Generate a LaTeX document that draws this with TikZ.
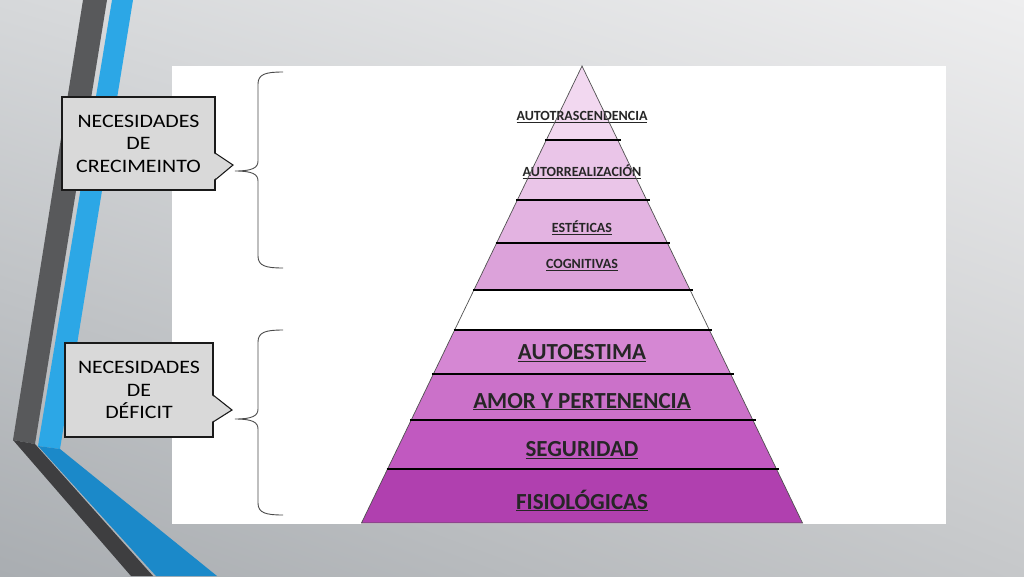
\documentclass[tikz,border=0pt]{standalone}
\usepackage{fontspec}
\setmainfont{Carlito}
\newfontfamily\CalloutFace[FakeStretch=1.15]{Carlito}
\usepackage{xcolor}
\usepackage{tikz}
\usetikzlibrary{calc,shadings}
\definecolor{SlideTopLeft}{HTML}{D6D8DA}
\definecolor{SlideTopRight}{HTML}{EEEEEF}
\definecolor{SlideBottomLeft}{HTML}{A9ADB1}
\definecolor{SlideBottomRight}{HTML}{C6C8CA}
\definecolor{StripeDark}{HTML}{58595B}
\definecolor{StripeDarkLow}{HTML}{3E3E40}
\definecolor{StripeBlue}{HTML}{2CA7E6}
\definecolor{StripeBlueLow}{HTML}{1B89C9}
\definecolor{CalloutFill}{HTML}{D9D9D9}
\definecolor{CalloutEdge}{HTML}{1A1A1A}
\definecolor{BraceInk}{HTML}{4A4A4A}
\definecolor{PyramidEdge}{HTML}{505050}
\definecolor{LayerInk}{HTML}{262626}
\definecolor{LayerA}{HTML}{F2D8F0}
\definecolor{LayerB}{HTML}{EAC5E8}
\definecolor{LayerC}{HTML}{E3B3E1}
\definecolor{LayerD}{HTML}{DCA2DA}
\definecolor{LayerE}{HTML}{D587D3}
\definecolor{LayerF}{HTML}{CB71C9}
\definecolor{LayerG}{HTML}{C159C0}
\definecolor{LayerH}{HTML}{B040AF}
\newcommand{\CalloutText}{\CalloutFace\fontsize{19}{22.5}\selectfont}
\newcommand{\SmallLayer}{\fontsize{14}{16}\selectfont\bfseries}
\newcommand{\BigLayer}{\fontsize{23}{26}\selectfont\bfseries}
\tikzset{
  callout box/.style={draw=CalloutEdge,fill=CalloutFill,line width=1.1pt,
    align=center,inner sep=0pt,text=black,font=\CalloutText},
  callout edge/.style={draw=CalloutEdge,line width=1.1pt,line join=miter},
  brace line/.style={draw=BraceInk,line width=0.9pt},
  layer rule/.style={draw=black,line width=2.4pt},
  pyramid edge/.style={draw=PyramidEdge,line width=0.7pt}
}

\begin{document}
\begin{tikzpicture}[x=1pt,y=-1pt]
  % pixel grid of the 1024 x 576 slide, y runs downwards
  \path[use as bounding box] (0,0) rectangle (1024,576);
  \shade[upper left=SlideTopLeft,upper right=SlideTopRight,
    lower left=SlideBottomLeft,lower right=SlideBottomRight] (0,0) rectangle (1024,576);

  \fill[StripeDark] (83,0) -- (107,0) -- (35,444) -- (13,440) -- cycle;
  \fill[StripeDarkLow] (13,440) -- (35,444) -- (153,576) -- (131,576) -- cycle;
  \fill[StripeBlue] (112,0) -- (133,0) -- (60,449) -- (38,446) -- cycle;
  \fill[StripeBlueLow] (38,446) -- (60,449) -- (217,576) -- (156,576) -- cycle;

  \fill[white] (172,66) rectangle (946,524);

  \def\apexx{582}
  \def\apexy{66}
  \def\slope{0.4825}

  \newcommand{\pyrlayer}[7]{%
    \pgfmathsetmacro{\halftop}{\slope*(#2-\apexy)}%
    \pgfmathsetmacro{\halfbot}{\slope*(#3-\apexy)}%
    \fill[#4] ({\apexx-\halftop},#2) -- ({\apexx+\halftop},#2)
      -- ({\apexx+\halfbot},#3) -- ({\apexx-\halfbot},#3) -- cycle;%
    \node[anchor=base,inner sep=0pt,text=LayerInk,font=#5] (#1)
      at (\apexx,#6) {\underline{#7}};%
  }

  \pyrlayer{trasc}{66}{140}{LayerA}{\SmallLayer}{120.7}{AUTOTRASCENDENCIA}
  \pyrlayer{realiz}{140}{200}{LayerB}{\SmallLayer}{176.7}{AUTORREALIZACIÓN}
  \pyrlayer{estet}{200}{243}{LayerC}{\SmallLayer}{232.7}{ESTÉTICAS}
  \pyrlayer{cogn}{243}{290}{LayerD}{\SmallLayer}{268.5}{COGNITIVAS}
  \pyrlayer{estima}{330}{374}{LayerE}{\BigLayer}{359.3}{AUTOESTIMA}
  \pyrlayer{amor}{374}{420}{LayerF}{\BigLayer}{408}{AMOR Y PERTENENCIA}
  \pyrlayer{segur}{420}{469}{LayerG}{\BigLayer}{456.7}{SEGURIDAD}
  \pyrlayer{fisio}{469}{523}{LayerH}{\BigLayer}{509}{FISIOLÓGICAS}

  \draw[pyramid edge] (\apexx,\apexy) -- ({\apexx+\slope*457},523)
    -- ({\apexx-\slope*457},523) -- cycle;
  \foreach \ry in {140,200,243,290,330,374,420,469}{
    \pgfmathsetmacro{\halfw}{\slope*(\ry-\apexy)}
    \draw[layer rule] ({\apexx-\halfw-1},\ry) -- ({\apexx+\halfw+3},\ry);
  }

  \newcommand{\sidebrace}[3]{%
    \draw[brace line] (283,#1) .. controls (266,#1) and (258,{#1+2}) .. (258,{#1+12})
      -- (258,{#2-10}) .. controls (258,{#2-3}) and (252,#2) .. (235,#2)
      .. controls (252,#2) and (258,{#2+3}) .. (258,{#2+10})
      -- (258,{#3-12}) .. controls (258,{#3-2}) and (266,#3) .. (283,#3);%
  }
  \sidebrace{72}{171}{268}
  \sidebrace{330}{419}{515}

  \node[callout box,minimum width=153pt,minimum height=93pt] (growth)
    at (138.5,143.5) {NECESIDADES\\DE\\CRECIMEINTO};
  \fill[CalloutFill] (213.5,153) -- (233,165) -- (213.5,180) -- cycle;
  \draw[callout edge] (215,153) -- (233,165) -- (215,180);

  \node[callout box,minimum width=148pt,minimum height=94pt] (deficit)
    at (139,390) {NECESIDADES\\DE\\DÉFICIT};
  \fill[CalloutFill] (211.5,395) -- (232,410) -- (211.5,422) -- cycle;
  \draw[callout edge] (213,395) -- (232,410) -- (213,422);
\end{tikzpicture}
\end{document}
